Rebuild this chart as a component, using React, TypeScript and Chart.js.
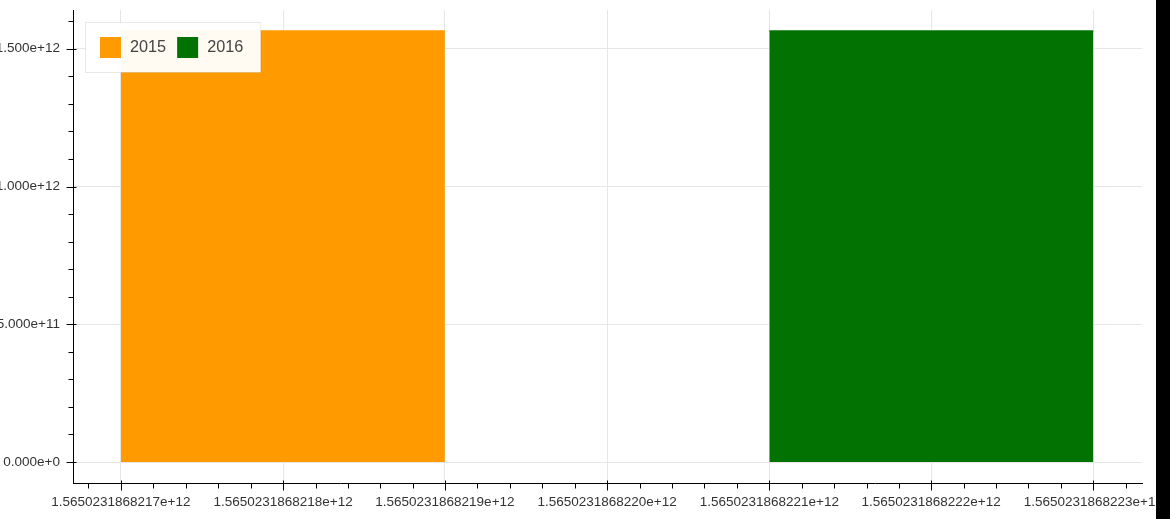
import { useEffect, useRef } from 'react';
import { Chart, registerables } from 'chart.js';

Chart.register(...registerables);

// series
const seriesNames = ['2015', '2016'];
const seriesColors = ['rgb(255, 155, 0)', 'rgb(2, 115, 2)'];
const barLeft = [1565023186821.7, 1565023186822.1];
const barRight = [1565023186821.9, 1565023186822.3];
const barTop = [1.565e12, 1.565e12];

// axes
const xTicks = [
  1565023186821.7, 1565023186821.8, 1565023186821.9, 1565023186822.0,
  1565023186822.1, 1565023186822.2, 1565023186822.3,
];
const xTickLabels = [
  '1.5650231868217e+12',
  '1.5650231868218e+12',
  '1.5650231868219e+12',
  '1.5650231868220e+12',
  '1.5650231868221e+12',
  '1.5650231868222e+12',
  '1.5650231868223e+12',
];
const xRange = [1565023186821.6704, 1565023186822.3302];
const yTicks = [0, 5e11, 1e12, 1.5e12];
const yTickLabels = ['0.000e+0', '5.000e+11', '1.000e+12', '1.500e+12'];
const yRange = [-0.0762e12, 1.6407e12];

const FONT = "'Liberation Sans', Helvetica, Arial, sans-serif";

// bokeh-style tick marks (major in/out + minor out)
const tickMarks = {
  id: 'tickMarks',
  afterDraw(chart: any) {
    const { ctx, chartArea } = chart;
    const xs = chart.scales.x;
    const ys = chart.scales.y;
    ctx.save();
    ctx.strokeStyle = '#000';
    ctx.lineWidth = 1;
    const minorValues = (scale: any) => {
      const t = scale.ticks.map((k: any) => k.value);
      const step = (t[1] - t[0]) / 5;
      const out: number[] = [];
      for (let v = t[0] - step; v >= scale.min; v -= step) out.push(v);
      for (let i = 0; i < t.length; i++) {
        for (let k = 1; k < 5; k++) {
          const v = t[i] + k * step;
          if (v <= scale.max) out.push(v);
        }
      }
      return out;
    };
    const bottom = chartArea.bottom + 0.5;
    const left = chartArea.left + 0.5;
    ctx.beginPath();
    xs.ticks.forEach((t: any) => {
      const px = Math.round(xs.getPixelForValue(t.value)) + 0.5;
      ctx.moveTo(px, bottom - 3);
      ctx.lineTo(px, bottom + 7);
    });
    minorValues(xs).forEach((v) => {
      const px = Math.round(xs.getPixelForValue(v)) + 0.5;
      ctx.moveTo(px, bottom);
      ctx.lineTo(px, bottom + 5);
    });
    ys.ticks.forEach((t: any) => {
      const py = Math.round(ys.getPixelForValue(t.value)) + 0.5;
      ctx.moveTo(left + 3, py);
      ctx.lineTo(left - 7, py);
    });
    minorValues(ys).forEach((v) => {
      const py = Math.round(ys.getPixelForValue(v)) + 0.5;
      ctx.moveTo(left, py);
      ctx.lineTo(left - 5, py);
    });
    ctx.stroke();
    ctx.restore();
  },
};

// legend box inside the plot, top left
const insideLegend = {
  id: 'insideLegend',
  afterDatasetsDraw(chart: any) {
    const { ctx, chartArea } = chart;
    const x0 = chartArea.left + 12.5;
    const y0 = chartArea.top + 12.5;
    const h = 50;
    ctx.save();
    ctx.font = `16.25px ${FONT}`;
    const items = chart.data.datasets.map((d: any) => ({
      label: d.label,
      color: d.backgroundColor,
      w: ctx.measureText(d.label).width,
    }));
    let w = 15;
    items.forEach((it: any) => (w += 21 + 9 + it.w + 11));
    w += 6;
    ctx.fillStyle = 'rgba(255, 255, 255, 0.95)';
    ctx.fillRect(x0, y0, w, h);
    ctx.strokeStyle = 'rgba(0, 0, 0, 0.09)';
    ctx.lineWidth = 1;
    ctx.strokeRect(x0, y0, w, h);
    let x = x0 + 14.5;
    const cy = y0 + h / 2;
    items.forEach((it: any) => {
      ctx.fillStyle = it.color;
      ctx.fillRect(x, cy - 10.5, 21, 21);
      x += 21 + 9;
      ctx.fillStyle = '#444';
      ctx.textBaseline = 'middle';
      ctx.textAlign = 'left';
      ctx.fillText(it.label, x, cy + 0.5);
      x += it.w + 11;
    });
    ctx.restore();
  },
};

export default function App() {
  const chartRef = useRef<HTMLCanvasElement>(null);
  const chartInstance = useRef<Chart | null>(null);

  useEffect(() => {
    if (!chartRef.current) return;
    const ctx = chartRef.current.getContext('2d');
    if (!ctx) return;
    if (chartInstance.current) chartInstance.current.destroy();

    const datasets = seriesNames.map((name, i) => ({
      label: name,
      data: [
        { x: barLeft[i], y: barTop[i] },
        { x: barRight[i], y: barTop[i] },
      ],
      backgroundColor: seriesColors[i],
      borderColor: seriesColors[i],
      borderWidth: 1,
      pointRadius: 0,
      fill: 'origin',
      tension: 0,
    }));

    chartInstance.current = new Chart(ctx, {
      type: 'line',
      data: { datasets },
      plugins: [tickMarks, insideLegend],
      options: {
        animation: false,
        responsive: true,
        maintainAspectRatio: false,
        layout: { padding: { top: 10, right: 14, left: 0, bottom: 0 } },
        plugins: {
          legend: { display: false },
          tooltip: { enabled: false },
          title: { display: false },
        },
        scales: {
          x: {
            type: 'linear',
            min: xRange[0],
            max: xRange[1],
            afterBuildTicks: (scale: any) => {
              scale.ticks = xTicks.map((v) => ({ value: v }));
            },
            afterFit: (scale: any) => {
              scale.height = 36;
              scale.paddingLeft = 0;
              scale.paddingRight = 0;
            },
            grid: { color: '#e6e6e6', lineWidth: 1, drawTicks: false },
            border: { color: '#000', width: 1 },
            ticks: {
              padding: 11,
              maxRotation: 0,
              autoSkip: false,
              color: '#333',
              font: { family: FONT, size: 13.5 },
              callback: (_v: any, i: number) => xTickLabels[i],
            },
          },
          y: {
            type: 'linear',
            min: yRange[0],
            max: yRange[1],
            afterBuildTicks: (scale: any) => {
              scale.ticks = yTicks.map((v) => ({ value: v }));
            },
            afterFit: (scale: any) => {
              scale.width = 73;
              scale.paddingTop = 0;
              scale.paddingBottom = 0;
            },
            grid: { color: '#e6e6e6', lineWidth: 1, drawTicks: false },
            border: { color: '#000', width: 1 },
            ticks: {
              padding: 13,
              color: '#333',
              font: { family: FONT, size: 13.5 },
              callback: (_v: any, i: number) => yTickLabels[i],
            },
          },
        },
      },
    });

    return () => {
      if (chartInstance.current) {
        chartInstance.current.destroy();
        chartInstance.current = null;
      }
    };
  }, []);

  return (
    <div style={{ position: 'fixed', left: 0, top: 0, width: 1170, height: 519, background: '#000' }}>
      <div style={{ position: 'relative', width: 1156, height: 519, background: '#fff' }}>
        <canvas ref={chartRef}></canvas>
      </div>
    </div>
  );
}
